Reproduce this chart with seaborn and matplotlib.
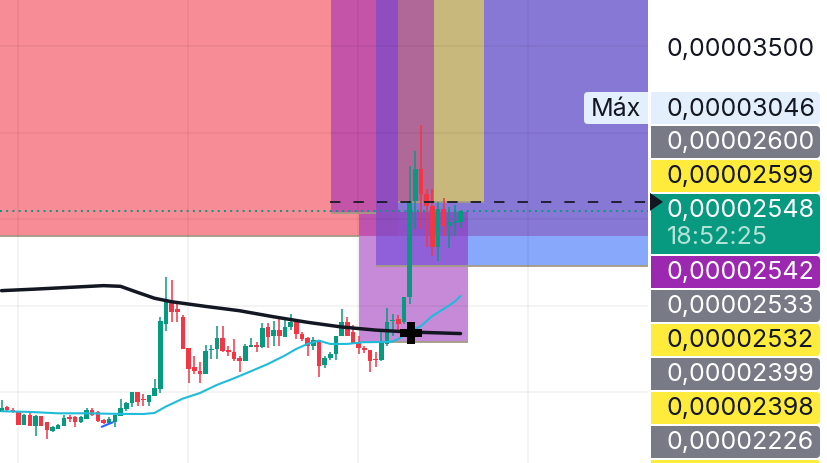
import numpy as np
import matplotlib
matplotlib.use("Agg")
import matplotlib.pyplot as plt
import seaborn as sns
from matplotlib.patches import Rectangle, FancyBboxPatch, Polygon

# ---------------- data (prices in units of 1e-8) ----------------
opens = [1383, 1412, 1398, 1383, 1311, 1369, 1305, 1360, 1325, 1276,
         1286, 1305, 1356, 1354, 1325, 1344, 1398, 1383, 1338, 1321,
         1325, 1363, 1402, 1437, 1498, 1460, 1444, 1479, 1518, 1893,
         2028, 1980, 1934, 1754, 1645, 1623, 1604, 1743, 1749, 1812,
         1745, 1731, 1697, 1681, 1763, 1772, 1760, 1876, 1822, 1860,
         1816, 1874, 1906, 1835, 1811, 1764, 1802, 1656, 1695, 1720,
         1826, 1906, 1845, 1787, 1753, 1745, 1691, 1685, 1778, 1913,
         1922, 1905, 2048, 2606, 2789, 2645, 2577, 2337, 2558, 2461,
         2477, 2481]
highs = [1454, 1417, 1408, 1388, 1373, 1383, 1367, 1363, 1327, 1305,
         1315, 1367, 1367, 1361, 1361, 1408, 1408, 1388, 1344, 1357,
         1367, 1460, 1444, 1498, 1500, 1489, 1484, 1575, 1934, 2163,
         2149, 2020, 1945, 1754, 1710, 1673, 1772, 1772, 1883, 1883,
         1766, 1807, 1710, 1778, 1812, 1789, 1899, 1899, 1912, 1922,
         1932, 1951, 1906, 1845, 1816, 1816, 1802, 1710, 1733, 1826,
         1980, 1932, 1887, 1826, 1768, 1745, 1730, 1854, 1986, 1951,
         1945, 2049, 2805, 2895, 3046, 2674, 2674, 2600, 2620, 2568,
         2581, 2548]
lows = [1383, 1383, 1377, 1311, 1309, 1305, 1244, 1304, 1228, 1271,
        1286, 1304, 1325, 1296, 1321, 1344, 1363, 1325, 1315, 1315,
        1296, 1363, 1392, 1412, 1417, 1421, 1421, 1479, 1494, 1854,
        1905, 1905, 1749, 1552, 1604, 1552, 1604, 1691, 1691, 1731,
        1710, 1681, 1616, 1679, 1760, 1731, 1754, 1754, 1768, 1768,
        1816, 1860, 1807, 1797, 1710, 1743, 1585, 1637, 1685, 1687,
        1822, 1826, 1778, 1720, 1726, 1618, 1643, 1679, 1766, 1826,
        1847, 1893, 2009, 2442, 2442, 2338, 2288, 2259, 2404, 2331,
        2404, 2448]
closes = [1406, 1398, 1383, 1311, 1369, 1305, 1360, 1305, 1280, 1299,
          1309, 1348, 1344, 1325, 1354, 1396, 1367, 1331, 1319, 1344,
          1367, 1406, 1437, 1498, 1444, 1454, 1484, 1522, 1911, 2028,
          1961, 1962, 1749, 1633, 1623, 1604, 1739, 1749, 1812, 1739,
          1730, 1691, 1681, 1766, 1766, 1759, 1870, 1818, 1860, 1822,
          1874, 1903, 1835, 1807, 1764, 1802, 1652, 1695, 1720, 1826,
          1906, 1826, 1783, 1753, 1745, 1681, 1685, 1783, 1905, 1919,
          1893, 2048, 2606, 2789, 2645, 2577, 2337, 2558, 2461, 2481,
          2489, 2548]

ma_slow_idx = [0, 6, 12, 18, 21, 24, 27, 30, 36, 42, 48, 54, 60, 66, 72, 78, 81]
ma_slow = [2086, 2095, 2105, 2115, 2111, 2076, 2042, 2022, 1995, 1970, 1935,
           1903, 1876, 1858, 1847, 1841, 1838]
ma_fast_idx = [0, 5, 10, 15, 20, 25, 27, 29, 32, 35, 38, 41, 44, 47, 50, 52,
               54, 56, 58, 61, 64, 67, 69, 70, 72, 74, 76, 78, 80, 81]
ma_fast = [1389, 1385, 1377, 1377, 1374, 1373, 1379, 1416, 1462, 1494, 1541,
           1579, 1620, 1662, 1711, 1749, 1778, 1797, 1778, 1778, 1788, 1789,
           1792, 1807, 1847, 1881, 1939, 1980, 2023, 2055]

# drawing zones: x0, x1 (bar index), price low, price high, colour (drawn in order)
TOP = 3900
zones = [
    (-1.0, 63.08, 2399, TOP, "#f88c96"),
    (63.08, 115.0, 2399, TOP, "#8878d6"),
    (82.32, 115.0, 2226, 2399, "#88a8fb"),
    (63.08, 82.32, 1790, 2542, "#c78ad8"),
    (66.09, 82.32, 2226, 2399, "#9060d8"),
    (66.09, 82.32, 2399, 2542, "#8e50c8"),
    (63.08, 66.09, 2399, 2542, "#c052b0"),
    (58.14, 66.09, 2533, TOP, "#c454a8"),
    (66.09, 69.97, 2399, TOP, "#904dc0"),
    (69.97, 76.32, 2600, TOP, "#b06898"),
    (76.32, 85.14, 2600, TOP, "#c8b87c"),
]
# zone bottom borders: price, x0, x1
zone_edges = [(2399, -1.0, 63.08), (2533, 58.14, 66.09), (2600, 69.97, 85.14),
              (2226, 66.09, 115.0), (1790, 63.08, 82.32)]

target_price = 2599        # dashed line
last_price = 2548          # dotted line
marker_point = (72.26, 1842)
blue_seg_x = [17.68, 19.62]
blue_seg_y = [1299, 1325]

tick_values = [1500, 2000, 2500, 3000, 3500]
grid_x = [2.91, 32.91, 62.91, 92.91]

label_values = [3046, 2600, 2599, 2548, 2542, 2533, 2532, 2399, 2398, 2226, 2225]
countdown = "18:52:25"
max_text = "Máx"

# ---------------- style ----------------
GREEN = "#089981"
RED = "#f23645"
GRAYL = "#787b86"
YELLOW = "#ffeb3b"
PURPLE = "#9c27b0"
LIGHT = "#e3effd"
INK = "#131722"
FS = 18

sns.set_theme(style="white")
plt.rcParams["font.family"] = ["Inter", "DejaVu Sans"]

W, H = 828, 464
fig = plt.figure(figsize=(W / 100, H / 100), dpi=100)
fig.patch.set_facecolor("white")
ax = fig.add_axes([0, 0, 648 / W, 1])
ax.set_facecolor("white")
ax.set_xlim(-0.265, 114.08)
ax.set_ylim(1089.8, 3771.7)
for s in ax.spines.values():
    s.set_visible(False)


def fmt(v):
    return "0," + f"{v:08d}"


# zones
for x0, x1, y0, y1, col in zones:
    ax.add_patch(Rectangle((x0, y0), x1 - x0, y1 - y0, facecolor=col,
                           edgecolor="none", lw=0, zorder=1))
for p, x0, x1 in zone_edges:
    ax.hlines(p, x0, x1, colors="#a49b84", lw=1.3, zorder=1.2)

# grid
ax.set_yticks(tick_values)
ax.set_yticklabels(["" if v != 3500 else fmt(v) for v in tick_values])
ax.yaxis.tick_right()
ax.set_xticks(grid_x)
ax.set_xticklabels([])
ax.set_axisbelow(False)
ax.grid(True, color="black", alpha=0.055, lw=1.1)
ax.tick_params(axis="both", length=0)
ax.tick_params(axis="y", pad=13.5, labelsize=FS, labelcolor=INK)

# lines
ax.axhline(last_price, color=GREEN, lw=1.4, linestyle=(0, (1, 2.2)), zorder=3)

o = np.array(opens, float)
h = np.array(highs, float)
l = np.array(lows, float)
c = np.array(closes, float)
idx = np.arange(len(o))
cols = np.where(c >= o, GREEN, RED)
ax.vlines(idx, l, h, colors=cols, lw=1.1, zorder=4)
body_lo = np.minimum(o, c)
body_h = np.maximum(np.abs(c - o), 6)
ax.bar(idx, body_h, bottom=body_lo, width=0.82, color=cols, lw=0, zorder=5)

sns.lineplot(x=ma_fast_idx, y=ma_fast, ax=ax, color="#1fbcd9", lw=1.5,
             zorder=6, sort=False)
sns.lineplot(x=ma_slow_idx, y=ma_slow, ax=ax, color=INK, lw=2.5,
             zorder=6, sort=False)
ax.plot(blue_seg_x, blue_seg_y, color="#2962ff", lw=1.5, zorder=6)

ax.hlines(target_price, 57.97, 115, colors=INK, lw=1.25,
          linestyles=(0, (6, 7.5)), zorder=7)
ax.plot(*marker_point, marker="P", ms=16.5, mew=0, color="black", zorder=8)

# ---------------- price-axis labels ----------------
oax = fig.add_axes([0, 0, 1, 1], zorder=10)
oax.set_xlim(0, W)
oax.set_ylim(H, 0)
oax.axis("off")

bgs = [LIGHT, GRAYL, YELLOW, GREEN, PURPLE, GRAYL, YELLOW, GRAYL, YELLOW, GRAYL, YELLOW]
fgs = [INK, "white", INK, "white", "white", "white", INK, "white", INK, "white", INK]
heights = [32, 32, 32, 60, 32, 32, 32, 32, 32, 32, 32]
top = 93
LX, LW = 651, 169
for v, bg, fg, hh in zip(label_values, bgs, fgs, heights):
    oax.add_patch(FancyBboxPatch((LX, top), LW, hh,
                                 boxstyle="round,pad=0,rounding_size=4",
                                 facecolor=bg, edgecolor="none", zorder=1))
    oax.add_patch(Rectangle((LX, top), 10, hh, facecolor=bg,
                            edgecolor="none", zorder=1))
    if top + hh / 2 < H - 8:
        if hh > 40:
            oax.text(667, top + 15.5, fmt(v), color=fg, fontsize=FS,
                     va="center", ha="left", zorder=3)
            oax.text(667, top + 42.5, countdown, color="#b3e2d7", fontsize=FS,
                     va="center", ha="left", zorder=3)
        else:
            oax.text(667, top + hh / 2, fmt(v), color=fg, fontsize=FS,
                     va="center", ha="left", zorder=3)
    top += hh + 2

# Máx tag
oax.add_patch(FancyBboxPatch((584, 93), 64, 32,
                             boxstyle="round,pad=0,rounding_size=4",
                             facecolor=LIGHT, edgecolor="none", zorder=1))
oax.add_patch(Rectangle((638, 93), 10, 32, facecolor=LIGHT,
                        edgecolor="none", zorder=1))
oax.text(616, 109.5, max_text, color=INK, fontsize=FS, va="center",
         ha="center", zorder=3)

# pointer at the target price
fig.canvas.draw()
yp = H - ax.transData.transform((0, target_price))[1]
oax.add_patch(Polygon([(650, yp - 9), (650, yp + 9), (663, yp)],
                      closed=True, facecolor=INK, edgecolor="none", zorder=4))

fig.savefig("out.png", dpi=100, facecolor="white")
